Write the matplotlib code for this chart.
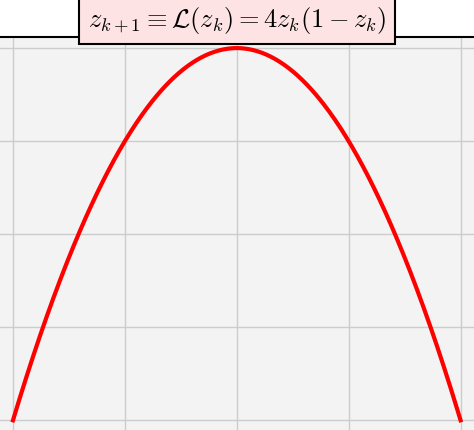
import numpy as np
import matplotlib
matplotlib.use("Agg")
import matplotlib.pyplot as plt

plt.rcParams['mathtext.fontset'] = 'cm'
r = 4.0
z = np.linspace(0, 1, 400)
fz = r * z * (1 - z)

fig = plt.figure(figsize=(4.74, 4.31), dpi=100)
ax = fig.add_axes([0, 0, 1, 0.912])
ax.set_facecolor('#f3f3f3')
ax.plot(z, fz, color='red', lw=3, zorder=3)
ax.set_xlim(-0.029, 1.03)
ax.set_ylim(-0.026, 1.03)
ax.set_xticks([0, 0.25, 0.5, 0.75, 1])
ax.set_yticks([0, 0.25, 0.5, 0.75, 1])
ax.grid(True, color='#cccccc', lw=1)
ax.tick_params(length=0, labelleft=False, labelbottom=False)
for s in ['left', 'right', 'bottom']:
    ax.spines[s].set_visible(False)
ax.spines['top'].set_color('black')
ax.spines['top'].set_linewidth(1.5)
fig.text(0.5, 0.952, r'$z_{k+1} \equiv \mathcal{L}(z_k) = 4z_k(1-z_k)$',
         ha='center', va='center', fontsize=19,
         bbox=dict(boxstyle='square,pad=0.35', fc='#fde3e3', ec='black', lw=1.5))
fig.savefig('out.png', dpi=100)
